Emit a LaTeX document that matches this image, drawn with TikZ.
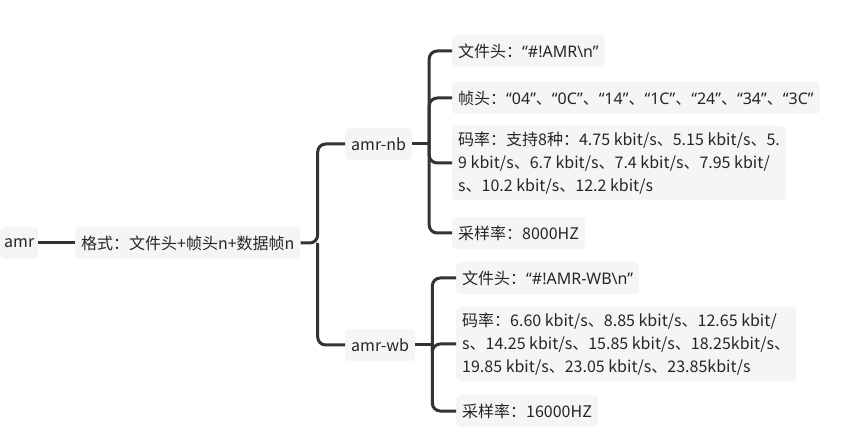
\documentclass[tikz,border=0pt]{standalone}
\usepackage{fontspec}
\newfontfamily\cjk{Noto Sans CJK SC}
\newfontfamily\lat{Noto Sans}
\newcommand{\qt}[1]{{\lat“#1”}}
\definecolor{boxbg}{HTML}{F5F5F5}
\definecolor{linec}{HTML}{333333}
\tikzset{
  tbox/.style={anchor=west, fill=boxbg, rounded corners=4pt, inner xsep=6pt, inner ysep=6pt, minimum height=32pt, align=left, font=\cjk\fontsize{16}{23}\selectfont, text=black!85},
  conn/.style={draw=linec, line width=3pt, rounded corners=8pt}
}
\begin{document}
\begin{tikzpicture}[x=1pt,y=-1pt]
\useasboundingbox (0,0) rectangle (867,435);
\node[tbox, inner xsep=4pt] (amr) at (0,243) {amr};
\node[tbox] (ge) at (75,243) {格式：文件头+帧头n+数据帧n};
\node[tbox] (nb) at (345,144) {amr-nb};
\node[tbox] (wb) at (345,345) {amr-wb};
\node[tbox] (n1) at (452,51) {文件头：\qt{\#!AMR\textbackslash n}};
\node[tbox] (n2) at (452,98) {帧头：\qt{04}、\qt{0C}、\qt{14}、\qt{1C}、\qt{24}、\qt{34}、\qt{3C}};
\node[tbox] (n3) at (452,163) {码率：支持8种：4.75 kbit/s、5.15 kbit/s、5.\\9 kbit/s、6.7 kbit/s、7.4 kbit/s、7.95 kbit/\\s、10.2 kbit/s、12.2 kbit/s};
\node[tbox] (n4) at (452,233) {采样率：8000HZ};
\node[tbox] (w1) at (456,278) {文件头：\qt{\#!AMR-WB\textbackslash n}};
\node[tbox] (w2) at (456,344) {码率：6.60 kbit/s、8.85 kbit/s、12.65 kbit/\\s、14.25 kbit/s、15.85 kbit/s、18.25kbit/s、\\19.85 kbit/s、23.05 kbit/s、23.85kbit/s};
\node[tbox] (w3) at (456,411) {采样率：16000HZ};
\draw[conn] (amr.east) -- (ge.west);
\coordinate (gt) at ([xshift=17pt]ge.east);
\draw[conn] (ge.east) -- (gt) |- (nb.west);
\draw[conn] (gt) |- (wb.west);
\coordinate (nt) at ([xshift=17pt]nb.east);
\draw[conn] (nb.east) -- (nt);
\foreach \c in {n1,n2,n3,n4} \draw[conn] (nt) |- (\c.west);
\coordinate (wt) at ([xshift=17pt]wb.east);
\draw[conn] (wb.east) -- (wt);
\foreach \c in {w1,w2,w3} \draw[conn] (wt) |- (\c.west);
\end{tikzpicture}
\end{document}
